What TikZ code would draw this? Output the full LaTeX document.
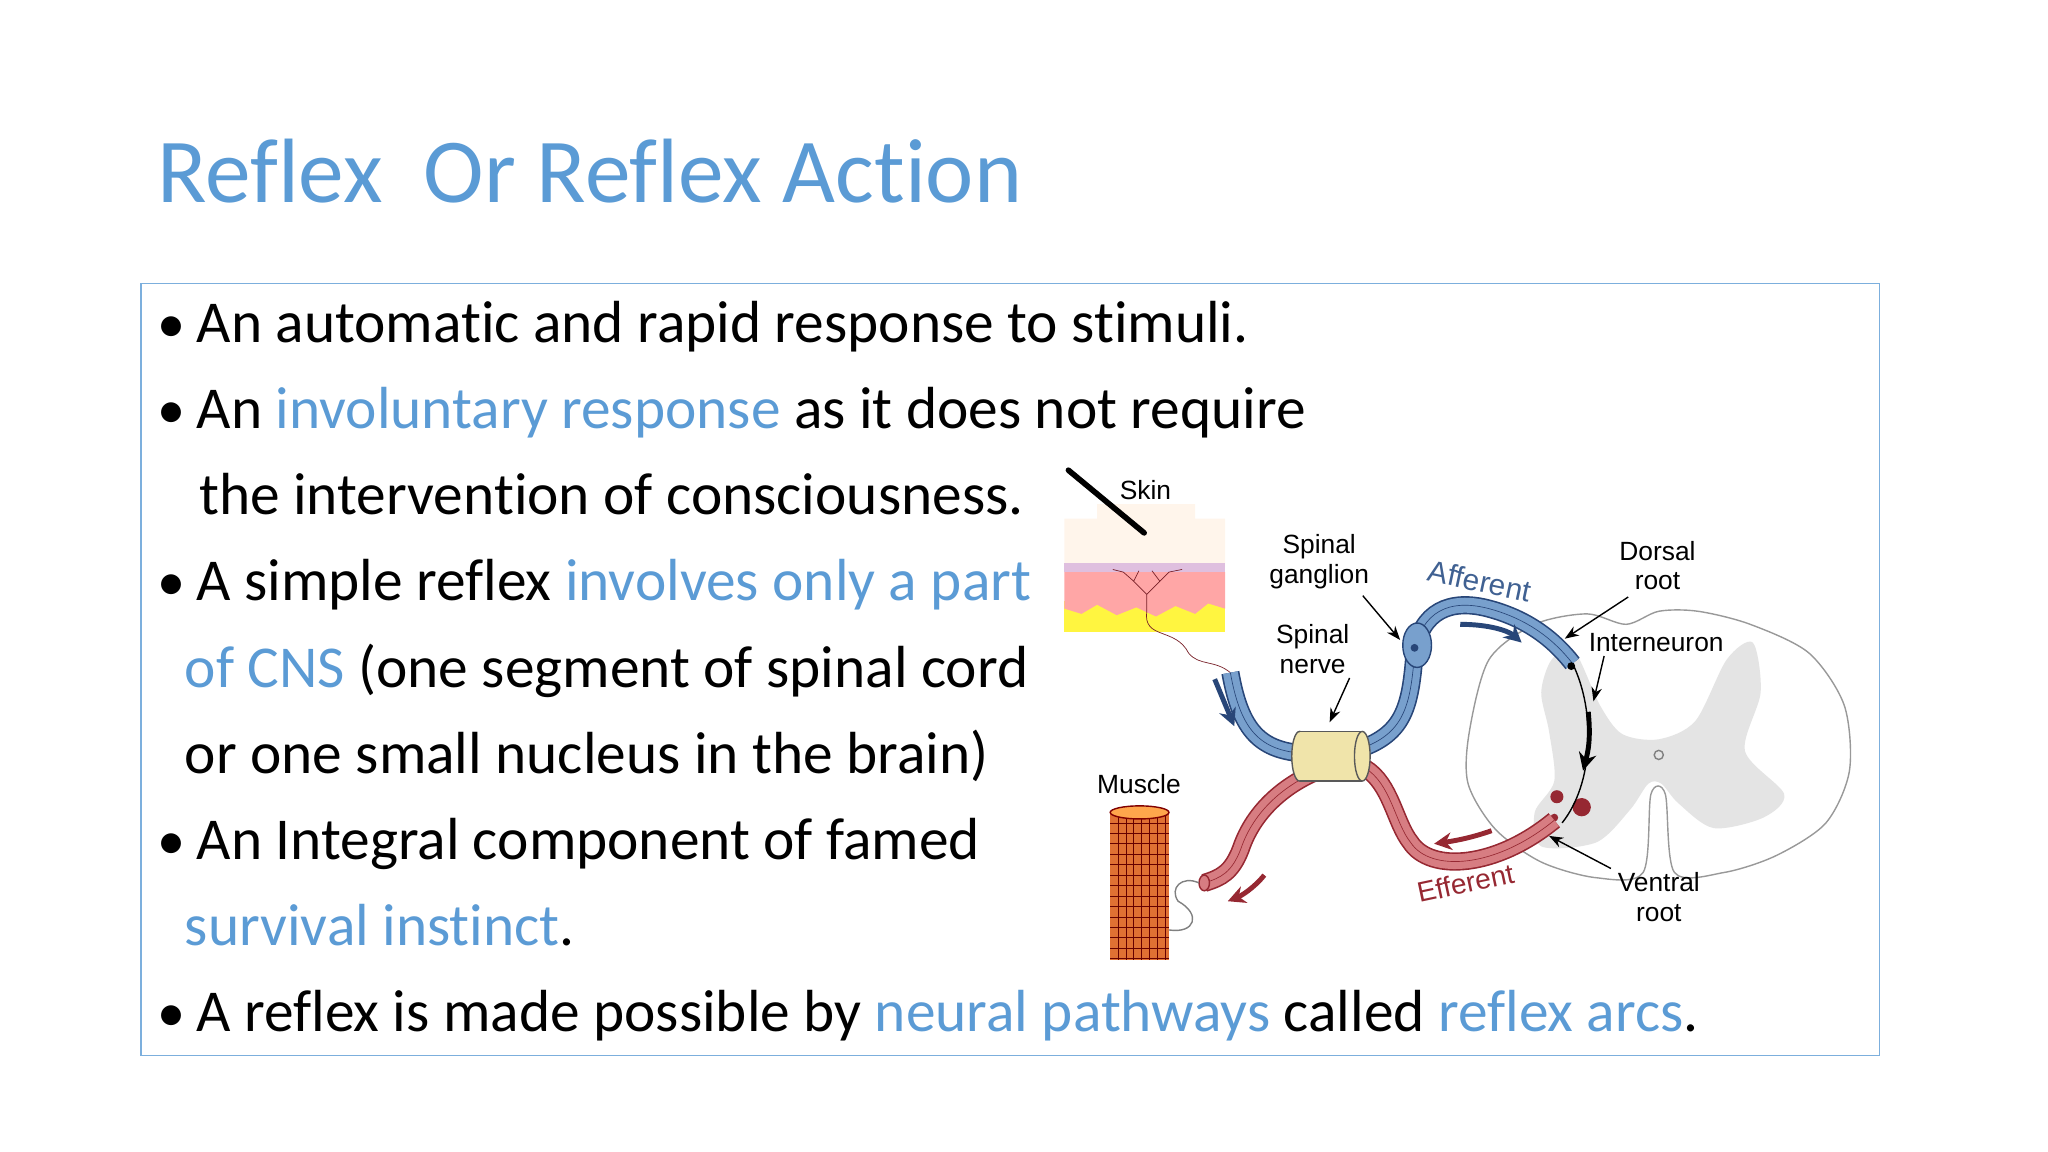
\documentclass[tikz,border=0pt]{standalone}
\usepackage{fontspec}
\setmainfont[Ligatures=NoCommon]{Carlito}
\newfontfamily\lab{Liberation Sans}
\usetikzlibrary{arrows.meta}
\definecolor{tblue}{RGB}{91,155,213}
\definecolor{nblue}{RGB}{120,160,205}
\definecolor{dblue}{RGB}{40,70,120}
\definecolor{nred}{RGB}{215,125,130}
\definecolor{dred}{RGB}{150,40,50}
\definecolor{cyl}{RGB}{240,228,170}
\definecolor{grey}{RGB}{228,228,228}
\begin{document}
\begin{tikzpicture}[x=0.01306cm,y=-0.01306cm,
 body/.style={anchor=base west,font=\fontsize{16.9}{17}\selectfont,inner sep=0},
 bul/.style={anchor=base west,font=\fontsize{16}{16}\selectfont,inner sep=0},
 lbl/.style={font=\lab\fontsize{7.5}{8.5}\selectfont,align=center,inner sep=1pt},
 ann/.style={-{Stealth[length=4pt]},thin},
 flow/.style={-{Stealth[length=5pt,width=5pt]},line width=1.4pt}]
\useasboundingbox (0,0) rectangle (1568,882);
\node[anchor=base west,inner sep=0,text=tblue,font=\fontsize{26}{26}\selectfont] (title) at (120,155) {Reflex\ \ Or Reflex Action};
\draw[tblue!80] (108,217) rectangle (1439,808);
\foreach \y/\n in {262/b1,328/b2,460/b3,658/b4,790/b5}{\node[bul] (\n) at (120,\y) {•};}
\node[body] (t1) at (150,262) {An automatic and rapid response to stimuli.};
\node[body] (t2) at (150,328) {An \textcolor{tblue}{involuntary response} as it does not require};
\node[body] (t3) at (152,394) {the intervention of consciousness.};
\node[body] (t4) at (150,460) {A simple reflex \textcolor{tblue}{involves only a part}};
\node[body] (t5) at (141,526) {\textcolor{tblue}{of CNS} (one segment of spinal cord};
\node[body] (t6) at (141,592) {or one small nucleus in the brain)};
\node[body] (t7) at (150,658) {An Integral component of famed};
\node[body] (t8) at (141,724) {\textcolor{tblue}{survival instinct}.};
\node[body] (t9) at (150,790) {A reflex is made possible by \textcolor{tblue}{neural pathways} called \textcolor{tblue}{reflex arcs}.};

% skin
\fill[orange!8] (815,434) -- (815,397) -- (840,397) -- (840,386) -- (915,386) -- (915,397) -- (938,397) -- (938,434) -- cycle;
\fill[violet!25] (815,431) rectangle (938,438);
\fill[yellow!75] (815,460) rectangle (938,484);
\fill[red!35] (815,438) -- (938,438) -- (938,466) -- (925,462) -- (915,470) -- (900,464) -- (885,472) -- (870,465) -- (855,471) -- (840,463) -- (828,470) -- (815,466) -- cycle;
\draw[dred!80!black,very thin] (878,468) -- (878,455) -- (868,445) -- (860,438) (868,445) -- (872,437) (878,455) -- (888,445) -- (895,438) (888,445) -- (882,437) (860,438)--(852,436) (895,438)--(905,436) (878,468) .. controls (875,490) and (900,480) .. (910,500) .. controls (918,510) and (930,505) .. (942,515);
\draw[line width=1.6pt,line cap=round] (818,360) -- (876,408);
\node[lbl] (skin) at (877,375) {Skin};

% spinal cord
\draw[gray!80,fill=white] plot[smooth cycle] coordinates {(1125,560) (1140,505) (1175,478) (1215,470) (1245,478) (1270,468) (1300,468) (1340,478) (1385,500) (1412,540) (1416,590) (1398,630) (1360,655) (1320,668) (1282,668) (1275,608) (1264,608) (1258,668) (1222,672) (1180,660) (1145,635) (1124,600)};
\fill[grey] plot[smooth cycle] coordinates {(1188,505) (1205,498) (1225,540) (1242,562) (1270,566) (1298,552) (1322,505) (1342,492) (1348,530) (1336,575) (1366,608) (1350,626) (1312,634) (1285,615) (1272,600) (1262,600) (1248,620) (1222,645) (1180,648) (1175,622) (1190,598) (1186,560) (1180,530)};
\draw[gray] (1270,578) circle (3.5);
\fill[dred] (1192,610) circle (5) (1211,618) circle (7) (1190,626) circle (3);

% afferent
\foreach \w/\c in {14/dblue,11.5/nblue,0.5/dblue}{
\draw[line width=\w*0.37pt,\c] (942,515) .. controls (950,560) and (965,575) .. (1000,577);
\draw[line width=\w*0.37pt,\c] (1045,572) .. controls (1075,560) and (1080,540) .. (1083,500) .. controls (1088,468) and (1110,458) .. (1140,466) .. controls (1170,474) and (1190,490) .. (1204,508);}
\draw[dblue,fill=nblue] (1085,494) ellipse (11 and 17);
\fill[dblue] (1083,496) circle (3);
\draw[thin] (1204,508) .. controls (1222,545) and (1220,600) .. (1196,630);
\fill (1203,510) circle (3);
% efferent
\foreach \w/\c in {14/dred,11.5/nred,0.5/dred}{
\draw[line width=\w*0.37pt,\c] (1010,590) .. controls (985,600) and (960,620) .. (950,650) .. controls (943,668) and (935,672) .. (922,676);
\draw[line width=\w*0.37pt,\c] (1045,588) .. controls (1065,600) and (1068,630) .. (1080,645) .. controls (1095,668) and (1145,665) .. (1190,628);}
\draw[dred,fill=nred] (922,676) ellipse (4 and 6);
% cylinder
\draw[gray!70!black,fill=cyl] (995,579) ellipse (6 and 19);
\fill[cyl] (995,560) rectangle (1043,598);
\draw[gray!70!black] (995,560) -- (1043,560) (995,598) -- (1043,598);
\draw[gray!70!black,fill=cyl] (1043,579) ellipse (6 and 19);
% muscle
\fill[orange!70!red!85!black!80] (850,622) rectangle (895,735);
\foreach \x in {856,862,...,892}{\draw[red!40!black,very thin] (\x,622) -- (\x,735);}
\foreach \y in {630,638,...,734}{\draw[red!40!black,very thin] (850,\y) -- (895,\y);}
\draw[red!50!black,fill=orange!70] (872.5,622) ellipse (22.5 and 5);
\draw[gray,thin] (918,676) .. controls (905,670) and (895,680) .. (902,690) .. controls (920,700) and (915,715) .. (895,712);
% flow arrows
\draw[flow,dblue] (1118,478) .. controls (1140,478) and (1155,483) .. (1165,492);
\draw[flow,dblue] (930,520) -- (945,556);
\draw[flow] (1216,545) .. controls (1218,565) and (1216,575) .. (1212,590);
\draw[flow,dred] (1142,636) .. controls (1125,642) and (1112,644) .. (1098,646);
\draw[flow,dred] (968,670) .. controls (960,680) and (950,686) .. (940,690);
% labels
\node[lbl] (sg) at (1010,430) {Spinal\\ganglion};
\node[lbl] (sn) at (1005,497) {Spinal\\nerve};
\node[lbl,text=dblue!70!nblue,rotate=-12,font=\lab\fontsize{8.5}{9}\selectfont] (aff) at (1133,445) {Afferent};
\node[lbl] (dr) at (1269,433) {Dorsal\\root};
\node[lbl] (in) at (1268,492) {Interneuron};
\node[lbl] (mu) at (872,600) {Muscle};
\node[lbl,text=dred,rotate=12,font=\lab\fontsize{8}{9}\selectfont] (eff) at (1122,676) {Efferent};
\node[lbl] (vr) at (1270,687) {Ventral\\root};
\draw[ann] (sg.south east) ++(-8,2) -- (1072,490);
\draw[ann] (sn.south east) ++(-3,0) -- (1018,553);
\draw[ann] (dr.south west) ++(10,2) -- (1198,489);
\draw[ann] (in.south west) ++(15,0) -- (1220,537);
\draw[ann] (vr.north west) ++(-2,0) -- (1186,640);
\end{tikzpicture}
\end{document}
